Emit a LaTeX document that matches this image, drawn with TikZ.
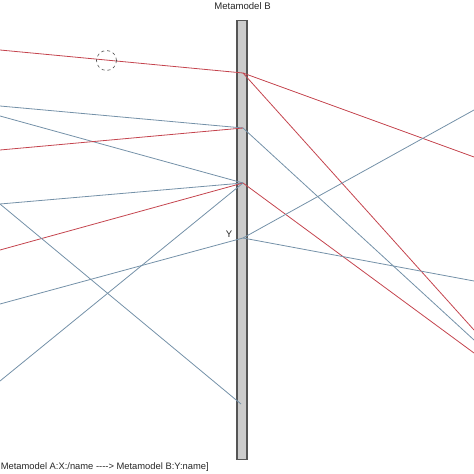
\documentclass[tikz,border=0pt]{standalone}
\usepackage{fontspec}
\setmainfont{Liberation Sans}
\definecolor{redline}{HTML}{C4444E}
\definecolor{blueline}{HTML}{7491A8}
\definecolor{barfill}{HTML}{CCCCCC}
\definecolor{bardraw}{HTML}{555555}
\begin{document}
\begin{tikzpicture}[x=1bp,y=-1bp,
  redc/.style={draw=redline,line width=0.8bp},
  bluec/.style={draw=blueline,line width=0.8bp},
  lbl/.style={font=\fontsize{9.6}{11}\selectfont,inner sep=0pt,text=black!85}]
\useasboundingbox (0,0) rectangle (474,474);
\clip (0,0) rectangle (474,474);
% bar
\node[draw=bardraw,fill=barfill,line width=1.3bp,minimum width=10bp,minimum height=439bp,inner sep=0pt,anchor=north] (bar) at (242,20) {};
\node[lbl] (title) at (242.5,6) {Metamodel B};
% junctions on the bar
\coordinate (j1) at (243,73);
\coordinate (j2) at (243,128);
\coordinate (j3) at (243,183);
\coordinate (j4) at (243,238);
\coordinate (j5) at (241,404);
% left ends
\coordinate (l1) at (0,50);
\coordinate (l2) at (0,106);
\coordinate (l3) at (0,116);
\coordinate (l4) at (0,150);
\coordinate (l5) at (0,204);
\coordinate (l6) at (0,250);
\coordinate (l8) at (0,381);
\coordinate (l9) at (0,304);
% right ends
\coordinate (ra) at (474,157);
\coordinate (rb) at (474,330);
\coordinate (rc) at (474,340);
\coordinate (rd) at (474,353);
\coordinate (re) at (474,110);
\coordinate (rf) at (474,281);
% left connectors
\draw[redc] (l1) -- (j1);
\draw[bluec] (l2) -- (j2);
\draw[bluec] (l3) -- (j3);
\draw[redc] (l4) -- (j2);
\draw[bluec] (l5) -- (j3);
\draw[redc] (l6) -- (j3);
\draw[bluec] (l5) -- (j5);
\draw[bluec] (l8) -- (j3);
\draw[bluec] (l9) -- (j4);
% right connectors
\draw[redc] (j1) -- (ra);
\draw[redc] (j1) -- (rb);
\draw[bluec] (j2) -- (rc);
\draw[redc] (j3) -- (rd);
\draw[bluec] (j4) -- (re);
\draw[bluec] (j4) -- (rf);
% marker circle
\node[draw=black!70,dashed,circle,minimum size=20bp,inner sep=0pt,line width=0.6bp] (mark) at (106.5,60.5) {};
% labels
\node[lbl] (ylab) at (229,234) {Y};
\node[lbl,font=\fontsize{9.4}{11}\selectfont,anchor=west] (caption) at (0.6,467) {Metamodel A:X:/name -{}-{}-{}-> Metamodel B:Y:name]};
\end{tikzpicture}
\end{document}
